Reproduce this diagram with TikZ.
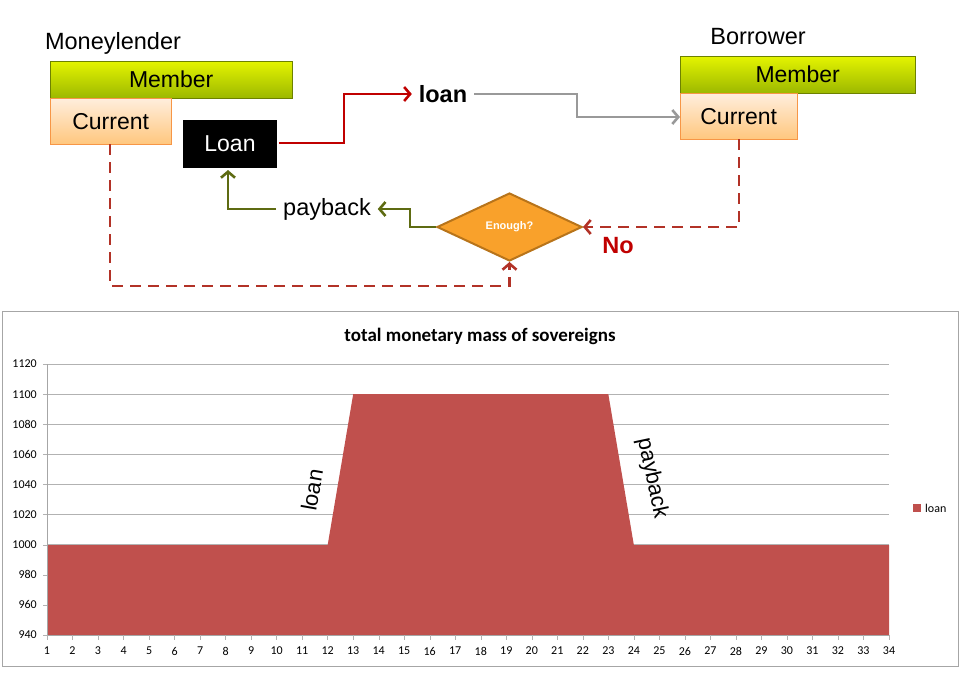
\documentclass[tikz,border=0pt]{standalone}
\usepackage{fontspec}
\setmainfont{Liberation Sans}
\newfontfamily\calfont{Carlito}
\usetikzlibrary{shapes.geometric,arrows.meta}
\definecolor{memtop}{HTML}{E4F400}
\definecolor{membot}{HTML}{9CB800}
\definecolor{curtop}{HTML}{FFEEDD}
\definecolor{curbot}{HTML}{FFC77E}
\definecolor{curline}{HTML}{F79646}
\definecolor{redline}{HTML}{C00000}
\definecolor{dashred}{HTML}{B23227}
\definecolor{olive}{HTML}{5E6B12}
\definecolor{area}{HTML}{C0504D}
\definecolor{dia}{HTML}{F9A12B}
\definecolor{diaedge}{HTML}{B8741A}
\tikzset{
 memberbox/.style={draw=membot!70!black, top color=memtop, bottom color=membot, minimum width=#1, minimum height=37pt, inner sep=0pt, font=\fontsize{23}{25}\selectfont},
 currentbox/.style={draw=curline, top color=curtop, bottom color=curbot, minimum width=#1, minimum height=46pt, inner sep=0pt, font=\fontsize{23}{25}\selectfont},
 lbl/.style={font=\fontsize{23.5}{25}\selectfont, inner sep=0pt, outer sep=7pt},
 arr/.style={line width=2.6pt, -{Straight Barb[length=6pt,width=14pt,line width=2.6pt]}},
 dsh/.style={arr, dash pattern=on 11pt off 7pt, color=dashred},
 grid/.style={draw=gray!60, line width=0.8pt},
 axlbl/.style={font=\calfont\fontsize{12}{13}\selectfont, inner sep=0pt}
}
\begin{document}
\begin{tikzpicture}[x=1pt,y=-1pt]
\useasboundingbox (0,0) rectangle (960,683);
% top diagram
\node[lbl] (ml) at (113,43) {Moneylender};
\node[memberbox=242pt, anchor=north west] (m1) at (50,61) {Member};
\node[currentbox=121pt, anchor=north west] (c1) at (50,98) {Current};
\node[lbl] (bo) at (758,37) {Borrower};
\node[memberbox=235pt, anchor=north west] (m2) at (680,56) {Member};
\node[currentbox=117pt, anchor=north west] (c2) at (680,93) {Current};
\node[fill=black, text=white, minimum width=94pt, minimum height=48pt, anchor=north west, inner sep=0pt, outer sep=2pt, font=\fontsize{23}{25}\selectfont] (ln) at (181,118) {Loan};
\node[lbl, font=\bfseries\fontsize{23.5}{25}\selectfont] (loan) at (443,94) {loan};
\node[lbl] (pb) at (327,209) {payback};
\node[diamond, aspect=2.1, fill=dia, draw=diaedge, line width=2pt, minimum width=145pt, minimum height=68pt, inner sep=0pt, text=white, font=\bfseries\fontsize{11}{12}\selectfont] (en) at (509.5,227) {Enough?};
\node[lbl, text=redline, font=\bfseries\fontsize{23.5}{25}\selectfont] (no) at (618,246) {No};
\coordinate (c1b) at (110,144);
\coordinate (c2b) at (739,139);
\coordinate (lnb) at (228,170);
% connectors
\draw[arr, redline] (ln.east |- 0,143) -- (344,143) -- (344,94) -- (loan.west);
\draw[arr, gray!80] (loan.east) -- (577,94) -- (577,117) -- (c2.west |- 0,117);
\draw[dsh] (c2b) -- (739,227) -- (en.east);
\draw[dsh] (c1b) -- (110,286) -- (en.south |- 0,286) -- (en.south);
\draw[arr, olive] (en.west) -- (410,227) -- (410,209) -- (pb.east);
\draw[arr, olive] (pb.west) -- (228,209) -- (lnb);
% chart
\draw[gray!70, line width=1pt] (2,311) rectangle (958,666);
\node[font=\calfont\bfseries\fontsize{19}{20}\selectfont, inner sep=0pt] (title) at (480,336) {total monetary mass of sovereigns};
\foreach \v [count=\i from 0] in {940,960,980,1000,1020,1040,1060,1080,1100,1120} {
  \pgfmathsetmacro{\yy}{635-\i*30.1}
  \draw[grid] (47,\yy) -- (889,\yy);
  \draw[gray!60] (43,\yy) -- (47,\yy);
  \node[axlbl, anchor=east] (y\i) at (37,\yy) {\v};
}
\fill[area] (47,635) -- (47,545) -- ({47+11*25.515},545) -- ({47+12*25.515},394.2) -- ({47+22*25.515},394.2) -- ({47+23*25.515},545) -- (889,545) -- (889,635) -- cycle;
\draw[gray!70, line width=0.8pt] (47,364) -- (47,635) -- (889,635);
\foreach \i in {1,...,34} {
  \pgfmathsetmacro{\xx}{47+(\i-1)*25.515}
  \draw[gray!60] (\xx,635) -- (\xx,640);
  \node[axlbl] (x\i) at (\xx,651) {\i};
}
\node[rotate=80, font=\fontsize{22}{23}\selectfont, inner sep=0pt] (lr) at (312,490) {loan};
\node[rotate=-78, font=\fontsize{22}{23}\selectfont, inner sep=0pt] (pr) at (652,478) {payback};
\fill[area] (913,504) rectangle (921,512);
\node[axlbl, anchor=west] (lg) at (925,508) {loan};
\end{tikzpicture}
\end{document}
